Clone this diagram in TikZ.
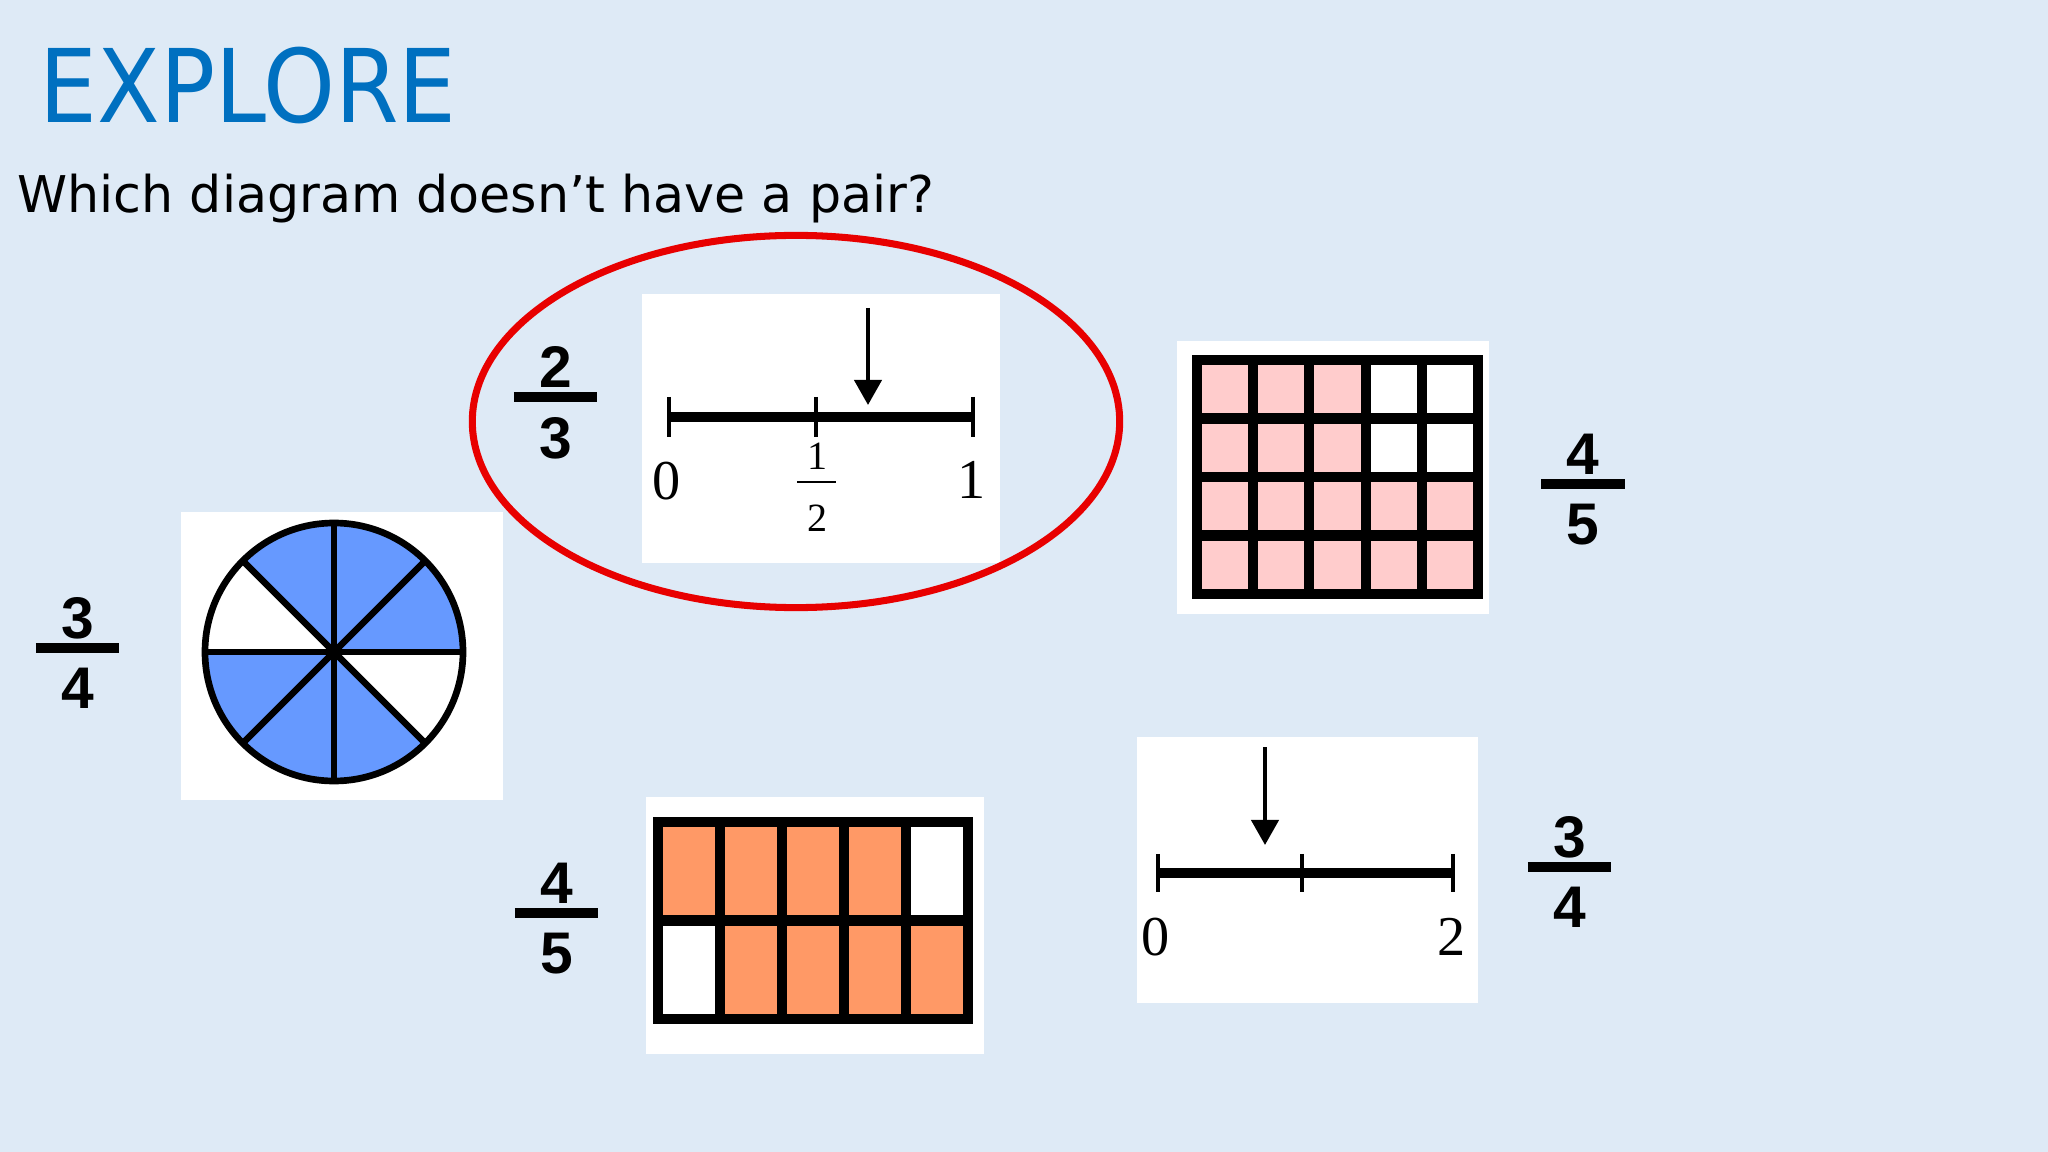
\documentclass[tikz,border=0pt]{standalone}
\usepackage{fontspec}
\setmainfont{DejaVu Sans}
\newfontfamily\headfont[FakeStretch=0.9]{DejaVu Sans}
\newfontfamily\fracfont{Liberation Sans}
\newfontfamily\markfont{Liberation Serif}
\usetikzlibrary{arrows.meta,shapes.geometric}
\definecolor{slidebg}{RGB}{222,234,246}
\definecolor{headblue}{RGB}{0,112,192}
\definecolor{ringred}{RGB}{232,0,0}
\definecolor{pieblue}{RGB}{102,153,255}
\definecolor{cellpink}{RGB}{255,204,204}
\definecolor{cellorange}{RGB}{255,153,102}
\tikzset{
    picbox/.style={fill=white, inner sep=0pt},
    fracdigit/.style={font=\fracfont\bfseries\fontsize{16.7}{20}\selectfont, inner sep=0pt},
    fracbar/.style={line width=2.8pt},
    numline/.style={line width=2.8pt},
    tickmark/.style={line width=1.1pt},
    pointer/.style={line width=1.2pt, -{Triangle[width=0.27cm,length=0.25cm]}},
    marklabel/.style={font=\markfont\fontsize{16}{18}\selectfont, inner sep=0pt},
    halflabel/.style={font=\markfont\fontsize{11.4}{13}\selectfont, inner sep=0pt},
    cellline/.style={line width=2.85pt},
    spoke/.style={line width=1.9pt},
}
\begin{document}
\begin{tikzpicture}[x=0.01cm, y=-0.01cm]
        \fill[slidebg] (0,0) rectangle (2048,1152);

        \node[anchor=base west, inner sep=0pt, text=headblue, font=\headfont\fontsize{28.9}{32}\selectfont] (title) at (39,123) {EXPLORE};
        \node[anchor=base west, inner sep=0pt, font=\fontsize{14.4}{17}\selectfont] (question) at (17,213) {Which diagram doesn’t have a pair?};

        \node[picbox, minimum width=3.58cm, minimum height=2.69cm] (linebox) at (821,428.5) {};
        \node[picbox, minimum width=3.22cm, minimum height=2.88cm] (piebox) at (342,656) {};
        \node[picbox, minimum width=3.12cm, minimum height=2.73cm] (pinkbox) at (1333,477.5) {};
        \node[picbox, minimum width=3.38cm, minimum height=2.57cm] (orangebox) at (815,925.5) {};
        \node[picbox, minimum width=3.41cm, minimum height=2.66cm] (twobox) at (1307.5,870) {};

        \foreach \nm/\cx/\cy/\a/\b in {fl/77.5/648/3/4, ft/555.5/397/2/3, fr/1583/484/4/5, fb/556.5/913/4/5, fs/1569.5/867/3/4} {
            \coordinate (\nm) at (\cx,\cy);
            \draw[fracbar] ([xshift=-0.415cm]\nm) -- ([xshift=0.415cm]\nm);
            \node[fracdigit, anchor=south] (\nm-num) at ([yshift=0.085cm]\nm) {\a};
            \node[fracdigit, anchor=north] (\nm-den) at ([yshift=-0.195cm]\nm) {\b};
        }

        \coordinate (na0) at (669,417);
        \coordinate (nah) at (816,417);
        \coordinate (na1) at (973,417);
        \coordinate (pa) at (868,308);
        \coordinate (pb) at (868,405);
        \draw[numline] (na0) -- (na1);
        \foreach \t in {na0,nah,na1} \draw[tickmark] ([yshift=0.2cm]\t) -- ([yshift=-0.2cm]\t);
        \draw[pointer] (pa) -- (pb);
        \node[marklabel] (lab0) at (667,481) {0};
        \node[marklabel] (lab1) at (972,480) {1};
        \node[halflabel] (halfnum) at (818,456) {1};
        \node[halflabel] (halfden) at (818,518) {2};
        \draw[line width=0.8pt] (797,482) -- (836,482);

        \coordinate (nb0) at (1158,873);
        \coordinate (nbm) at (1302,873);
        \coordinate (nb2) at (1453,873);
        \coordinate (qa) at (1265,747);
        \coordinate (qb) at (1265,845);
        \draw[numline] (nb0) -- (nb2);
        \foreach \t in {nb0,nbm,nb2} \draw[tickmark] ([yshift=0.19cm]\t) -- ([yshift=-0.19cm]\t);
        \draw[pointer] (qa) -- (qb);
        \node[marklabel] (labz) at (1156,937) {0};
        \node[marklabel] (labtwo) at (1452,937) {2};

        \coordinate (pc) at (334,652);
        \fill[pieblue] (pc) circle[radius=129];
        \fill[white] (pc) -- ([shift={(0:129)}]pc) arc[start angle=0, end angle=45, radius=129] -- cycle;
        \fill[white] (pc) -- ([shift={(180:129)}]pc) arc[start angle=180, end angle=225, radius=129] -- cycle;
        \foreach \a in {0,45,90,135} \draw[spoke] ([shift={(\a:129)}]pc) -- ([shift={(\a+180:129)}]pc);
        \draw[spoke] (pc) circle[radius=129];

        \fill[cellpink] (1197,360) rectangle (1478,594);
        \fill[white] (1365.6,360) rectangle (1478,477);
        \draw[cellline] (1197,360) rectangle (1478,594);
        \foreach \i in {1,...,4} \draw[cellline] ({1197+56.2*\i},360) -- ({1197+56.2*\i},594);
        \foreach \j in {1,2,3} \draw[cellline] (1197,{360+58.5*\j}) -- (1478,{360+58.5*\j});

        \fill[cellorange] (658,822) rectangle (968,1019);
        \fill[white] (906,822) rectangle (968,920.5);
        \fill[white] (658,920.5) rectangle (720,1019);
        \draw[cellline] (658,822) rectangle (968,1019);
        \foreach \i in {1,...,4} \draw[cellline] ({658+62*\i},822) -- ({658+62*\i},1019);
        \draw[cellline] (658,920.5) -- (968,920.5);

        \node[draw=ringred, line width=2pt, ellipse, inner sep=0pt, minimum width=6.47cm, minimum height=3.72cm] (pick) at (796,421.5) {};
    \end{tikzpicture}
\end{document}
